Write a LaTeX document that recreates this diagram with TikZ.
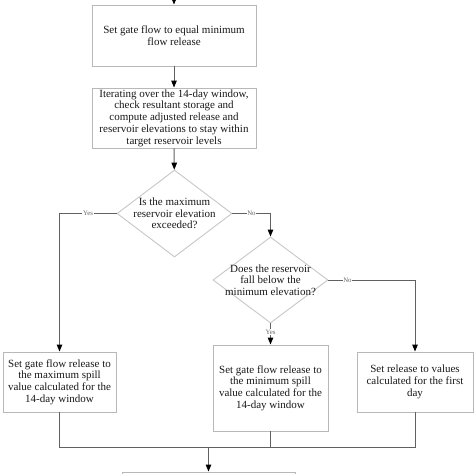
\documentclass[tikz,border=0pt]{standalone}
\usepackage{fontspec}
\setmainfont{Liberation Serif}
\usetikzlibrary{shapes.geometric,arrows.meta}
\begin{document}
\begin{tikzpicture}[x=1pt,y=-1pt,
  txt/.style={font=\fontsize{11}{11.7}\selectfont, text=black!90, align=center},
  box/.style={draw=black!28, line width=0.9pt, rectangle, inner sep=0pt, txt},
  dia/.style={draw=black!22, line width=0.9pt, diamond, inner sep=0pt},
  conn/.style={draw=black!62, line width=1pt},
  arr/.style={conn, -{Triangle[length=7pt,width=5.5pt,fill=black,color=black]}},
  lab/.style={font=\fontsize{6.8}{7}\selectfont, text=black!60, fill=white, inner sep=0.6pt}
]
\useasboundingbox (0,0) rectangle (474,474);
\fill[white] (0,0) rectangle (474,474);

\coordinate (top) at (174,-3);
\node[box, minimum width=164pt, minimum height=61pt] (b1) at (174,35.5)
  {Set gate flow to equal minimum\\flow release};
\node[box, minimum width=164pt, minimum height=60pt] (b2) at (174,118)
  {Iterating over the 14-day window,\\check resultant storage and\\compute adjusted release and\\reservoir elevations to stay within\\target reservoir levels};
\node[dia, minimum width=115pt, minimum height=87pt,
  label={[txt]center:{Is the maximum\\reservoir elevation\\exceeded?}}] (d1) at (174.5,213.5) {};
\node[dia, minimum width=115pt, minimum height=86pt,
  label={[txt]center:{Does the reservoir\\fall below the\\minimum elevation?}}] (d2) at (270.5,280) {};
\node[box, minimum width=113pt, minimum height=60pt] (b3) at (59.5,382)
  {Set gate flow release to\\the maximum spill\\value calculated for the\\14-day window};
\node[box, minimum width=115pt, minimum height=86pt] (b4) at (270.5,388)
  {Set gate flow release to\\the minimum spill\\value calculated for the\\14-day window};
\node[box, minimum width=116pt, minimum height=60pt] (b5) at (415,382)
  {Set release to values\\calculated for the first\\day};
\node[box, minimum width=173pt, minimum height=40pt] (b6) at (208.5,492) {};

\coordinate (jl) at (b3.south |- 0,447);
\coordinate (jm) at (b4.south |- 0,447);
\coordinate (jr) at (b5.south |- 0,447);
\coordinate (jc) at (b6.north |- 0,447);

\draw[arr] (top) -- (b1.north);
\draw[arr] (b1) -- (b2);
\draw[arr] (b2) -- (d1);
\draw[arr] (d1.west) -| node[lab, pos=0.25] {Yes} (b3.north);
\draw[arr] (d1.east) -| node[lab, pos=0.25] {No} (d2.north);
\draw[arr] (d2.east) -| node[lab, pos=0.11] {No} (b5.north);
\draw[arr] (d2.south) -- node[lab, pos=0.4] {Yes} (b4.north);
\draw[conn] (b3.south) -- (jl) -- (jr) -- (b5.south);
\draw[conn] (b4.south) -- (jm);
\draw[arr] (jc) -- (b6.north);
\end{tikzpicture}
\end{document}
